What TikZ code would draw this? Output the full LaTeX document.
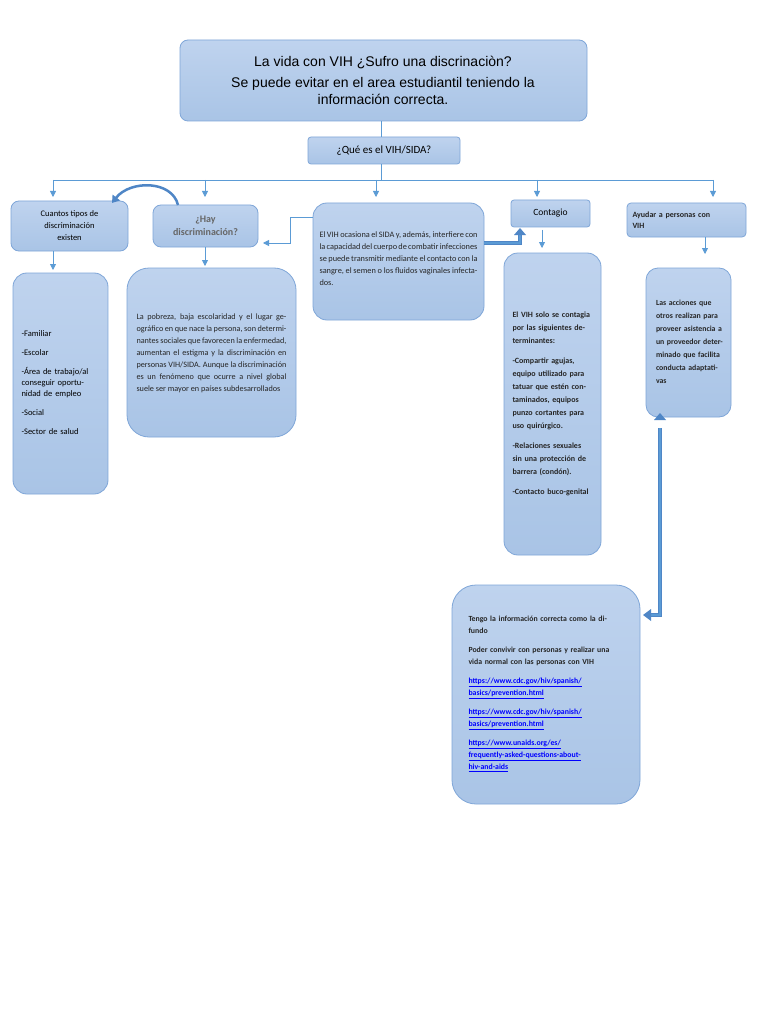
\documentclass[tikz,border=0pt]{standalone}
\usepackage{fontspec}
\setmainfont{Carlito}
\newfontfamily\arialf{Liberation Sans}
\usetikzlibrary{arrows.meta,positioning}
\definecolor{bfill}{HTML}{A9C4E6}
\definecolor{bfilltop}{HTML}{BFD3EE}
\definecolor{bdraw}{HTML}{7FA6D8}
\definecolor{lcol}{HTML}{5B9BD5}
\definecolor{acol}{HTML}{4F86C6}
\begin{document}
\begin{tikzpicture}[x=1pt,y=-1pt,
  bx/.style={draw=bdraw,line width=0.8pt,top color=bfilltop,bottom color=bfill,rounded corners=#1},
  bx/.default=8pt,
  ln/.style={draw=lcol,line width=0.8pt},
  ar/.style={ln,-{Triangle[width=6pt,length=6pt]}},
  txt/.style={font=\fontsize{8}{10.5}\selectfont\bfseries,text=black!85,align=justify},
  dbl/.style={double=lcol,draw=acol,line width=1.2pt,double distance=2.5pt}]
\useasboundingbox (0,0) rectangle (768,1024);
\fill[white] (0,0) rectangle (768,1024);
% boxes
\path[bx] (180,40) rectangle (587,121);
\node (title) at (383,80) [align=center,font=\arialf\fontsize{14}{17}\selectfont] {La vida con VIH ¿Sufro una discrinaciòn?\\[4pt]Se puede evitar en el area estudiantil teniendo la\\información correcta.};
\path[bx=3pt] (308,137) rectangle (460,164);
\node (q) at (384,150.5) [font=\fontsize{11}{13}\selectfont] {¿Qué es el VIH/SIDA?};
\coordinate (tb) at (381,121);
\draw[ln] (tb) -- (381,137);
\draw[ln] (381,164) -- (381,180);
\draw[ln] (53,180) -- (713,180);
\foreach \x/\n in {53/a,205/b,376/c,537/d,713/e}{\coordinate (t\n) at (\x,180); \draw[ar] (t\n) -- (\x,197);}
\path[bx] (11,201) rectangle (128,251);
\node (b1) at (69.5,226) [align=center,font=\fontsize{8.5}{12}\selectfont] {Cuantos tipos de\\discriminación\\existen};
\path[bx] (153,205) rectangle (258,247);
\node (b2) at (205.5,226) [align=center,text=black!60,font=\fontsize{10}{13}\selectfont\bfseries] {¿Hay\\discriminación?};
\path[bx=14pt] (313,203) rectangle (484,320);
\node (b3) at (398.5,259) [txt,text width=158pt,font=\fontsize{8.3}{12}\selectfont] {El VIH ocasiona el SIDA y, además, interfiere con la capacidad del cuerpo de combatir infecciones se puede transmitir mediante el contacto con la sangre, el semen o los fluidos vaginales infectados.};
\path[bx=3pt] (511,200) rectangle (590,227);
\node (b4) at (550.5,213.5) [font=\fontsize{9.5}{12}\selectfont] {Contagio};
\path[bx=4pt] (627,203) rectangle (746,237);
\node (b5) at (686.5,220) [txt,text width=108pt,align=left] {Ayudar a personas con\\VIH};
% detail boxes
\path[bx=14pt] (13,273) rectangle (108,494);
\node (l1) at (60.5,383) [align=left,text width=78pt,font=\fontsize{8.5}{11}\selectfont] {-Familiar\\[8pt]-Escolar\\[8pt]-Área de trabajo/al conseguir oportunidad de empleo\\[8pt]-Social\\[8pt]-Sector de salud};
\path[bx=22pt] (127,268) rectangle (296,437);
\node (l2) at (211.5,353) [txt,text width=150pt,font=\fontsize{8.2}{12}\selectfont] {La pobreza, baja escolaridad y el lugar geográfico en que nace la persona, son determinantes sociales que favorecen la enfermedad, aumentan el estigma y la discriminación en personas VIH/SIDA. Aunque la discriminación es un fenómeno que ocurre a nivel global suele ser mayor en países subdesarrollados};
\path[bx=14pt] (504,253) rectangle (601,555);
\node (l3) at (552.5,404) [txt,align=left,text width=80pt,font=\fontsize{8}{13}\selectfont\bfseries] {El VIH solo se contagia por las siguientes determinantes:\\[7pt]-Compartir agujas, equipo utilizado para tatuar que estén contaminados, equipos punzo cortantes para uso quirúrgico.\\[7pt]-Relaciones sexuales sin una protección de barrera (condón).\\[7pt]-Contacto buco-genital};
\path[bx=12pt] (646,268) rectangle (731,417);
\node (l4) at (690,342) [txt,align=left,text width=68pt,font=\fontsize{7.8}{13}\selectfont\bfseries] {Las acciones que otros realizan para proveer asistencia a un proveedor determinado que facilita conducta adaptativas};
\path[bx=24pt] (452,585) rectangle (640,804);
\node (l5) at (546,694) [txt,align=left,text width=155pt,font=\fontsize{7.8}{12}\selectfont\bfseries] {Tengo la información correcta como la difundo\\[7pt]Poder convivir con personas y realizar una vida normal con las personas con VIH\\[7pt]{\color{blue}\underline{https://www.cdc.gov/hiv/spanish/}}\\{\color{blue}\underline{basics/prevention.html}}\\[7pt]{\color{blue}\underline{https://www.cdc.gov/hiv/spanish/}}\\{\color{blue}\underline{basics/prevention.html}}\\[7pt]{\color{blue}\underline{https://www.unaids.org/es/}}\\{\color{blue}\underline{frequently-asked-questions-about-}}\\{\color{blue}\underline{hiv-and-aids}}};
% connectors
\draw[ar] (53,251) -- (53,270);
\draw[ar] (205,247) -- (205,266);
\draw[ar] (542,230) -- (542,248);
\draw[ar] (705,237) -- (705,254);
\draw[draw=acol,line width=2.5pt,-{Triangle[width=9pt,length=7pt]}] (178,205) .. controls (172,180) and (130,180) .. (112,203);
\draw[ar] (313,217) -- (290,217) -- (290,243) -- (263,243);
\draw[dbl] (484,243) -- (520,243) -- (520,234);
\fill[acol] (514,235) -- (526,235) -- (520,228) -- cycle;
\draw[dbl] (660,428) -- (660,615) -- (650,615);
\fill[acol] (654,420) -- (666,420) -- (660,413) -- cycle;
\fill[acol] (651,609) -- (651,621) -- (643,615) -- cycle;
\end{tikzpicture}
\end{document}
